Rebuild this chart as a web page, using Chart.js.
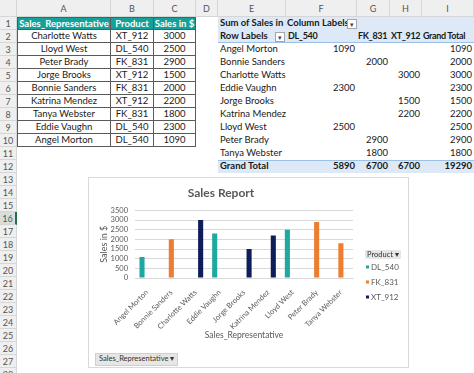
<!DOCTYPE html>
<html>
<head>
<meta charset="utf-8">
<script src="https://cdn.jsdelivr.net/npm/chart.js@4.4.1/dist/chart.umd.min.js"></script>
<style>
  html, body { margin: 0; padding: 0; background: #fff; }
  body { width: 474px; height: 373px; position: relative; overflow: hidden; font-family: Lato, "Open Sans", sans-serif; }
  #sheet { position: absolute; left: 0; top: 0; width: 474px; height: 373px; }
  .c { position: absolute; box-sizing: border-box; white-space: nowrap; font-size: 9.5px; line-height: 12px; color: #1a1a1a; }
  .clip { overflow: hidden; }
  .hdr { background: #efefef; color: #555; text-align: center; border-right: 1px solid #d6d6d6; border-bottom: 1px solid #d6d6d6; font-size: 9px; line-height: 13px; overflow: hidden; }
  .colhdr { line-height: 17px; }
  .rowsel { background: #dcdcdc; color: #217346; border-right: 2px solid #217346; }
  .tb { text-align: center; border-right: 1px solid #5a5a5a; border-bottom: 1px solid #5a5a5a; }
  .th { background: #14a19a; color: #fff; font-weight: bold; }
  .pv { background: #dde9f6; font-weight: bold; }
  .ph { font-size: 9px; letter-spacing: -0.35px; }
  .num { text-align: right; padding-right: 2px; }
  .lbl { padding-left: 2px; }
  .dd { position: absolute; width: 10px; height: 10px; box-sizing: border-box; border: 1px solid #a6a6a6; background: #fff; font-size: 7px; line-height: 8px; text-align: center; color: #444; }
  #chartBox { position: absolute; left: 88px; top: 177px; width: 321px; height: 191px; box-sizing: border-box; border: 1px solid #d9d9d9; background: #fff; }
  #chart { position: absolute; left: 0; top: 0; }
  #fieldBtn { position: absolute; left: 6px; top: 175px; height: 11px; padding: 0 3px; background: #e6e6e6; border: 1px solid #cfcfcf; font-size: 7.5px; line-height: 10px; color: #333; white-space: nowrap; }
</style>
</head>
<body>
<div id="sheet"></div>
<div id="chartBox">
  <canvas id="chart" width="319" height="189"></canvas>
  <div id="fieldBtn">Sales_Representative ▾</div>
</div>
<script>
// source table (A1:C10)
const tableReps = ["Charlotte Watts", "Lloyd West", "Peter Brady", "Jorge Brooks", "Bonnie Sanders", "Katrina Mendez", "Tanya Webster", "Eddie Vaughn", "Angel Morton"];
const tableProducts = ["XT_912", "DL_540", "FK_831", "XT_912", "FK_831", "XT_912", "FK_831", "DL_540", "DL_540"];
const tableSales = [3000, 2500, 2900, 1500, 2000, 2200, 1800, 2300, 1090];

// pivot / chart data
const reps = ["Angel Morton", "Bonnie Sanders", "Charlotte Watts", "Eddie Vaughn", "Jorge Brooks", "Katrina Mendez", "Lloyd West", "Peter Brady", "Tanya Webster"];
const products = ["DL_540", "FK_831", "XT_912"];
const dl540 = [1090, null, null, 2300, null, null, 2500, null, null];
const fk831 = [null, 2000, null, null, null, null, null, 2900, 1800];
const xt912 = [null, null, 3000, null, 1500, 2200, null, null, null];
const productColors = ["#1fa89f", "#ed7d31", "#0e1e5b"];

const colX = [0, 17, 111, 154, 196, 218, 286, 357, 390, 422, 474];
const colNames = ["", "A", "B", "C", "D", "E", "F", "G", "H", "I"];
const sheet = document.getElementById("sheet");

function rowTop(r) { return r === 0 ? 0 : 17 + (r - 1) * 13; }
function rowH(r) { return r === 0 ? 17 : 13; }

function addCell(c1, c2, r, text, cls, css) {
  const d = document.createElement("div");
  d.className = "c " + (cls || "");
  d.style.left = colX[c1] + "px";
  d.style.width = (colX[c2 + 1] - colX[c1]) + "px";
  d.style.top = rowTop(r) + "px";
  d.style.height = rowH(r) + "px";
  if (css) Object.assign(d.style, css);
  d.textContent = text;
  sheet.appendChild(d);
  return d;
}

function addDropdown(x, r) {
  const d = document.createElement("div");
  d.className = "dd";
  d.style.left = x + "px";
  d.style.top = (rowTop(r) + 1.5) + "px";
  d.textContent = "▾";
  sheet.appendChild(d);
}

// headers
addCell(0, 0, 0, "", "hdr colhdr");
for (let c = 1; c < colNames.length; c++) addCell(c, c, 0, colNames[c], "hdr colhdr");
for (let r = 1; r <= 28; r++) addCell(0, 0, r, String(r), "hdr" + (r === 16 ? " rowsel" : ""));

// source table
const srcHead = ["Sales_Representative", "Product", "Sales in $"];
srcHead.forEach((t, i) => addCell(i + 1, i + 1, 1, t, "tb th", i === 0 ? { borderLeft: "1px solid #5a5a5a", borderTop: "1px solid #5a5a5a" } : { borderTop: "1px solid #5a5a5a" }));
tableReps.forEach((name, i) => {
  addCell(1, 1, i + 2, name, "tb", { borderLeft: "1px solid #5a5a5a" });
  addCell(2, 2, i + 2, tableProducts[i], "tb");
  addCell(3, 3, i + 2, String(tableSales[i]), "tb");
});

// pivot table
const series = [dl540, fk831, xt912];
for (let c = 5; c <= 9; c++) {
  addCell(c, c, 1, "", "pv");
  addCell(c, c, 2, "", "pv", { borderBottom: "1px solid #9bc2e6" });
  addCell(c, c, 12, "", "pv", { borderTop: "1px solid #9bc2e6" });
}
addCell(5, 5, 1, "Sum of Sales in $", "pv lbl clip", { background: "transparent" });
addCell(6, 6, 1, "Column Labels", "pv lbl clip", { background: "transparent", paddingLeft: "1px" });
addDropdown(347, 1);
addCell(5, 5, 2, "Row Labels", "pv lbl", { background: "transparent" });
addDropdown(275, 2);
products.forEach((p, i) => addCell(6 + i, 6 + i, 2, p, "pv ph lbl", { background: "transparent", paddingLeft: i === 0 ? "2px" : "1px" }));
addCell(9, 9, 2, "Grand Total", "pv ph", { background: "transparent", paddingLeft: "1px" });

reps.forEach((name, i) => {
  const r = i + 3;
  addCell(5, 5, r, name, "lbl");
  let total = 0;
  series.forEach((s, j) => {
    if (s[i] !== null) {
      addCell(6 + j, 6 + j, r, String(s[i]), "num");
      total += s[i];
    }
  });
  addCell(9, 9, r, String(total), "num");
});
addCell(5, 5, 12, "Grand Total", "pv lbl", { background: "transparent" });
let grand = 0;
series.forEach((s, j) => {
  const sum = s.reduce((a, v) => a + (v || 0), 0);
  grand += sum;
  addCell(6 + j, 6 + j, 12, String(sum), "pv num", { background: "transparent" });
});
addCell(9, 9, 12, String(grand), "pv num", { background: "transparent" });

// chart
const grey = "#595959";
Chart.defaults.font.family = "Lato, 'Open Sans', sans-serif";

const sideLegend = {
  id: "sideLegend",
  afterDraw(chart) {
    const ctx = chart.ctx;
    const x0 = chart.chartArea.right + 12;
    ctx.save();
    // "Product" field button
    ctx.fillStyle = "#e6e6e6";
    ctx.fillRect(x0, 72, 36, 9);
    ctx.fillStyle = "#333";
    ctx.font = "7.5px Lato, 'Open Sans', sans-serif";
    ctx.textBaseline = "middle";
    ctx.textAlign = "left";
    ctx.fillText("Product ▾", x0 + 2, 76.5);
    chart.data.datasets.forEach((ds, i) => {
      const y = 89 + i * 15;
      ctx.fillStyle = ds.backgroundColor;
      ctx.fillRect(x0 + 1, y - 1.5, 3, 3);
      ctx.fillStyle = grey;
      ctx.font = "8px Lato, 'Open Sans', sans-serif";
      ctx.fillText(ds.label, x0 + 6, y);
    });
    ctx.restore();
  }
};

new Chart(document.getElementById("chart"), {
  type: "bar",
  data: {
    labels: reps,
    datasets: [
      { label: products[0], data: dl540, backgroundColor: productColors[0] },
      { label: products[1], data: fk831, backgroundColor: productColors[1] },
      { label: products[2], data: xt912, backgroundColor: productColors[2] }
    ]
  },
  options: {
    responsive: false,
    animation: false,
    layout: { padding: { left: 0, right: 55, top: 0, bottom: 25 } },
    datasets: { bar: { categoryPercentage: 0.63, barPercentage: 1 } },
    plugins: {
      legend: { display: false },
      tooltip: { enabled: false },
      title: {
        display: true,
        text: "Sales Report",
        color: grey,
        font: { size: 12, weight: "bold" },
        padding: { top: 8, bottom: 10 }
      }
    },
    scales: {
      x: {
        grid: { display: false },
        border: { color: "#d9d9d9" },
        ticks: { color: grey, font: { size: 7.5 }, minRotation: 45, maxRotation: 45, autoSkip: false, padding: 2 },
        title: { display: true, text: "Sales_Representative", color: grey, font: { size: 8.5 }, padding: { top: 0, bottom: 2 } },
        afterFit: (scale) => { scale.height = 64; }
      },
      y: {
        min: 0,
        max: 3500,
        ticks: { stepSize: 500, autoSkip: false, color: grey, font: { size: 7.5 }, padding: 7, callback: (v) => String(v) },
        grid: { color: "#d9d9d9", drawTicks: false },
        border: { display: false },
        title: { display: true, text: "Sales in $", color: grey, font: { size: 9 }, padding: { top: 10, bottom: 0 } },
        afterFit: (scale) => { scale.width = 46; }
      }
    }
  },
  plugins: [sideLegend]
});
</script>
</body>
</html>
